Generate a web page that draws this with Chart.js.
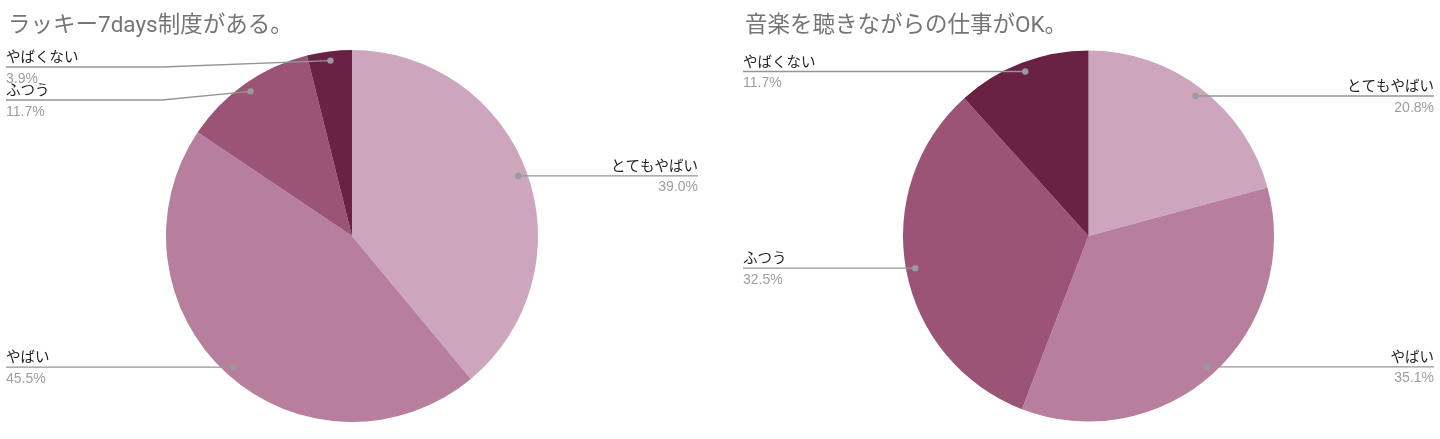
<!DOCTYPE html>
<html lang="ja">
<head>
<meta charset="utf-8">
<script src="https://cdn.jsdelivr.net/npm/chart.js@4.4.1/dist/chart.umd.min.js"></script>
<style>
  html, body { margin: 0; padding: 0; background: #fff; }
  .box { position: absolute; top: 0; width: 720px; height: 439px; }
  #boxA { left: 0; }
  #boxB { left: 720px; }
</style>
</head>
<body>
<div class="box" id="boxA"><canvas id="chartA" width="720" height="439"></canvas></div>
<div class="box" id="boxB"><canvas id="chartB" width="720" height="439"></canvas></div>
<script>
const categories = ['とてもやばい', 'やばい', 'ふつう', 'やばくない'];
const luckyValues = [39.0, 45.5, 11.7, 3.9];
const musicValues = [20.8, 35.1, 32.5, 11.7];
const luckyTitle = 'ラッキー7days制度がある。';
const musicTitle = '音楽を聴きながらの仕事がOK。';

const sliceColors = ['#cda6bd', '#b77f9d', '#9b5475', '#6a2244'];
const FONT = "Roboto, 'Noto Sans CJK JP', 'Noto Sans', sans-serif";
const NUM_FONT = "'Liberation Sans', Arial, sans-serif";

// leader lines + labels like the google sheets pie
const leaderPlugin = {
  id: 'leaders',
  afterDraw(chart, args, opts) {
    const ctx = chart.ctx;
    const meta = chart.getDatasetMeta(0);
    const values = chart.data.datasets[0].data;
    const labels = chart.data.labels;

    ctx.save();
    ctx.fillStyle = '#757575';
    ctx.font = '22.5px ' + FONT;
    ctx.textAlign = 'left';
    ctx.textBaseline = 'alphabetic';
    ctx.fillText(opts.title, opts.leftX + 2, 32);

    const items = meta.data.map((arc, i) => {
      const p = arc.getProps(['x', 'y', 'startAngle', 'endAngle', 'outerRadius'], true);
      const mid = (p.startAngle + p.endAngle) / 2;
      const rr = p.outerRadius * 0.95;
      const dx = p.x + Math.cos(mid) * rr;
      const dy = p.y + Math.sin(mid) * rr;
      return { i, cx: p.x, r: p.outerRadius, dx, dy, right: dx >= p.x };
    });

    const top = chart.chartArea.top + 17;
    [false, true].forEach((side) => {
      const group = items.filter((it) => it.right === side).sort((a, b) => a.dy - b.dy);
      let prev = -Infinity;
      group.forEach((it) => {
        it.ly = Math.max(it.dy, prev + 33, top);
        prev = it.ly;
      });
    });

    items.forEach((it) => {
      const edgeX = it.right ? it.cx + it.r + 160 : it.cx - it.r - 160;
      const bendX = it.right ? it.cx + it.r + 4 : it.cx - it.r - 4;

      ctx.strokeStyle = '#959595';
      ctx.lineWidth = 1.3;
      ctx.beginPath();
      ctx.moveTo(edgeX, it.ly);
      if (Math.abs(it.ly - it.dy) > 0.5) ctx.lineTo(bendX, it.ly);
      ctx.lineTo(it.dx, it.dy);
      ctx.stroke();

      ctx.fillStyle = '#9a9a9a';
      ctx.beginPath();
      ctx.arc(it.dx, it.dy, 3.2, 0, Math.PI * 2);
      ctx.fill();

      ctx.textAlign = it.right ? 'right' : 'left';
      ctx.fillStyle = '#222';
      ctx.font = '14.5px ' + FONT;
      ctx.fillText(labels[it.i], edgeX, it.ly - 5);
      ctx.fillStyle = '#9e9e9e';
      ctx.font = '14px ' + NUM_FONT;
      ctx.fillText(values[it.i].toFixed(1) + '%', edgeX, it.ly + 15.5);
    });
    ctx.restore();
  }
};

function makePie(id, values, title, padding) {
  return new Chart(document.getElementById(id), {
    type: 'pie',
    data: {
      labels: categories,
      datasets: [{ data: values, backgroundColor: sliceColors, borderWidth: 0 }]
    },
    options: {
      responsive: false,
      animation: false,
      devicePixelRatio: 1,
      layout: { padding },
      plugins: {
        legend: { display: false },
        tooltip: { enabled: false },
        leaders: { title, leftX: padding.left - 160 }
      }
    },
    plugins: [leaderPlugin]
  });
}

makePie('chartA', luckyValues, luckyTitle, { left: 166, right: 182, top: 50, bottom: 17 });
makePie('chartB', musicValues, musicTitle, { left: 183, right: 166, top: 50, bottom: 17 });
</script>
</body>
</html>
